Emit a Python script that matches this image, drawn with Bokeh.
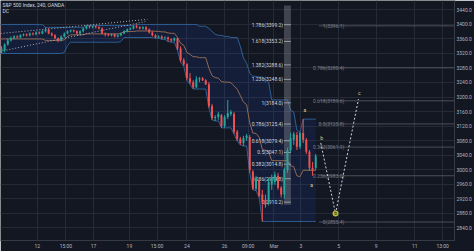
import pandas as pd
from bokeh.plotting import figure
from bokeh.models import Range1d, FixedTicker, NumeralTickFormatter, Label
from bokeh.core.properties import value
from bokeh.embed import file_html
from bokeh.resources import INLINE

# ---- 4h candles (bars -20..-1 are earlier bars that feed the DC indicator) ----
first_bar = -20
bar_open = [3378, 3384, 3381, 3386, 3384, 3389, 3386, 3392, 3389, 3392,
            3395, 3392, 3395, 3397, 3395, 3384, 3373, 3359, 3345, 3332,
            3323, 3329, 3345, 3356, 3362, 3367, 3364, 3370, 3373, 3370,
            3375, 3373, 3378, 3375, 3381, 3386, 3375, 3370, 3362, 3356,
            3367, 3375, 3381, 3384, 3381, 3375, 3381, 3389, 3395, 3392,
            3395, 3392, 3389, 3375, 3373, 3370, 3373, 3367, 3370, 3375,
            3381, 3386, 3389, 3395, 3392, 3389, 3392, 3386, 3378, 3370,
            3364, 3367, 3362, 3364, 3359, 3356, 3362, 3334, 3301, 3290,
            3252, 3241, 3227, 3249, 3252, 3246, 3235, 3175, 3142, 3145,
            3150, 3120, 3145, 3153, 3153, 3104, 3084, 3073, 3087, 3090,
            2994, 2947, 2972, 2931, 2917, 2911, 2958, 2966, 2983, 2950,
            2931, 2999, 3054, 3082, 3095, 3063, 3101, 3082, 3049, 3005,
            3005]
bar_close = [3384, 3381, 3386, 3384, 3389, 3386, 3392, 3389, 3392, 3395,
             3392, 3395, 3397, 3395, 3384, 3373, 3359, 3345, 3332, 3323,
             3334, 3345, 3356, 3362, 3367, 3364, 3370, 3373, 3370, 3375,
             3373, 3378, 3375, 3381, 3386, 3375, 3370, 3362, 3356, 3367,
             3375, 3381, 3384, 3381, 3375, 3381, 3389, 3395, 3392, 3395,
             3392, 3389, 3375, 3373, 3370, 3373, 3367, 3370, 3375, 3381,
             3386, 3389, 3395, 3392, 3389, 3392, 3386, 3378, 3370, 3364,
             3367, 3362, 3364, 3359, 3356, 3362, 3334, 3301, 3290, 3252,
             3241, 3227, 3249, 3252, 3246, 3235, 3175, 3142, 3145, 3153,
             3120, 3145, 3156, 3159, 3104, 3084, 3073, 3087, 3093, 2999,
             2947, 2977, 2928, 2911, 2903, 2966, 2977, 2986, 2950, 2931,
             2999, 3054, 3087, 3098, 3063, 3101, 3082, 3049, 3005, 2999,
             3037]
bar_high = [3386, 3386, 3389, 3389, 3392, 3392, 3395, 3395, 3395, 3397,
            3397, 3397, 3400, 3400, 3400, 3386, 3375, 3362, 3348, 3334,
            3340, 3348, 3362, 3367, 3370, 3370, 3373, 3375, 3375, 3378,
            3378, 3381, 3381, 3384, 3392, 3389, 3378, 3373, 3364, 3370,
            3378, 3384, 3386, 3386, 3384, 3384, 3392, 3397, 3397, 3397,
            3397, 3395, 3392, 3378, 3375, 3375, 3375, 3373, 3378, 3384,
            3389, 3392, 3397, 3400, 3395, 3395, 3395, 3389, 3381, 3373,
            3370, 3370, 3367, 3367, 3362, 3364, 3364, 3340, 3307, 3293,
            3266, 3246, 3257, 3255, 3255, 3249, 3241, 3181, 3150, 3159,
            3153, 3150, 3192, 3164, 3159, 3109, 3090, 3093, 3098, 3095,
            2999, 2983, 2977, 2944, 2931, 2977, 2986, 2994, 2991, 2955,
            3005, 3060, 3101, 3104, 3104, 3104, 3139, 3087, 3054, 3021,
            3043]
bar_low = [3375, 3378, 3378, 3381, 3381, 3384, 3384, 3386, 3386, 3389,
           3389, 3389, 3392, 3392, 3381, 3370, 3356, 3342, 3329, 3320,
           3320, 3323, 3342, 3353, 3359, 3362, 3362, 3367, 3367, 3367,
           3370, 3370, 3373, 3373, 3378, 3373, 3367, 3359, 3351, 3353,
           3364, 3373, 3378, 3378, 3373, 3373, 3378, 3386, 3389, 3389,
           3389, 3386, 3373, 3367, 3367, 3367, 3364, 3364, 3367, 3373,
           3378, 3384, 3386, 3389, 3386, 3386, 3384, 3375, 3367, 3362,
           3362, 3359, 3359, 3353, 3351, 3353, 3329, 3296, 3285, 3246,
           3235, 3222, 3224, 3241, 3244, 3233, 3170, 3137, 3134, 3137,
           3115, 3115, 3139, 3148, 3098, 3079, 3068, 3065, 3079, 2991,
           2944, 2942, 2923, 2857, 2895, 2901, 2944, 2958, 2944, 2923,
           2920, 2991, 3049, 3068, 3054, 3057, 3073, 3043, 2997, 2983,
           2999]
dc_period = 20

# ---- axis ticks ----
price_ticks = list(range(2840, 3441, 40))
time_ticks = [11.4, 20.5, 29.3, 40.7, 49.5, 59.0, 71.0, 78.5, 86.7, 95.3, 107.3, 119.2, 131.5, 140.4]
time_labels = ["12", "15:00", "17", "19", "15:00", "24", "26", "09:00", "Mar", "3", "5", "9", "11", "13:00"]

# ---- drawings ----
wedge_upper_x = [-0.3, 46.4]
wedge_upper_y = [3375.0, 3414.0]
wedge_lower_x = [-0.3, 45.8]
wedge_lower_y = [3326.0, 3408.0]

fib1_low, fib1_high = 2910.2, 3184.0
fib1_levels = [0, 0.236, 0.382, 0.5, 0.618, 0.786, 1, 1.236, 1.382, 1.618, 1.786]
fib1_time = (89.9, 92.1)
band_price = (2903.0, 3452.0)

fib2_low, fib2_high = 2855.4, 3396.1
fib2_levels = [0, 0.236, 0.382, 0.5, 0.618, 0.786, 1]
fib2_time = (101.0, 150.0)
fib2_label_time = 109.1

abc_x = [101.6, 106.3, 113.6]
abc_y = [3073.5, 2878.6, 3194.2]
wave_text = ["a", "b", "a", "c"]
wave_x = [96.5, 101.9, 98.7, 113.9]
wave_y = [3164.0, 3087.0, 2958.0, 3211.0]
wave_b_x, wave_b_y = 106.3, 2879.0

last_price = 3037.0
countdown = "00:59:52"

# ---- build ----
n = len(bar_close)
idx = list(range(first_bar, first_bar + n))
df = pd.DataFrame(dict(x=idx, o=bar_open, h=bar_high, l=bar_low, c=bar_close))
df["top"] = df[["o", "c"]].max(axis=1)
df["bot"] = df[["o", "c"]].min(axis=1)
df["col"] = ["#26a69a" if c >= o else "#ef5350" for o, c in zip(df.o, df.c)]
df["upper"] = df.h.rolling(dc_period, min_periods=1).max()
df["lower"] = df.l.rolling(dc_period, min_periods=1).min()
df["basis"] = (df.upper + df.lower) / 2

XMAX = 144.16
p = figure(width=474, height=251, x_range=Range1d(-0.32, XMAX), y_range=Range1d(2804.5, 3466.0),
           y_axis_location="right", output_backend="svg", toolbar_location=None,
           background_fill_color="#131722", border_fill_color="#131722", outline_line_color=None,
           min_border_left=0, min_border_top=0, min_border_right=0, min_border_bottom=0)

FONT = "Roboto"
for ax in (p.xaxis[0], p.yaxis[0]):
    ax.major_label_text_font_size = "5px"
    ax.major_label_text_color = "#b2b5be"
    ax.major_label_text_font = FONT
    ax.axis_line_color = "#363a45"
    ax.major_tick_line_color = None
    ax.minor_tick_line_color = None
    ax.major_label_standoff = 2
    ax.major_tick_out = 0
    ax.major_tick_in = 0
p.yaxis[0].ticker = FixedTicker(ticks=price_ticks)
p.yaxis[0].formatter = NumeralTickFormatter(format="0.0")
p.xaxis[0].ticker = FixedTicker(ticks=time_ticks)
p.xaxis[0].major_label_overrides = dict(zip(time_ticks, time_labels))
p.xgrid.ticker = FixedTicker(ticks=time_ticks)
p.ygrid.ticker = FixedTicker(ticks=price_ticks)
p.grid.grid_line_color = "#262a35"

# DC indicator
p.varea(x=df.x, y1=df.lower, y2=df.upper, fill_color="#2962ff", fill_alpha=0.1)
p.line(df.x, df.upper, line_color="#2e5f96", line_width=1)
p.line(df.x, df.lower, line_color="#2e5f96", line_width=1)
p.line(df.x, df.basis, line_color="#8f6a55", line_width=1)

# gray range band + fib 1
p.quad(left=fib1_time[0], right=fib1_time[1], bottom=band_price[0], top=band_price[1],
       fill_color="#9598a1", fill_alpha=0.35, line_color=None)
f1p = [fib1_low + lv * (fib1_high - fib1_low) for lv in fib1_levels]
p.segment(x0=[fib1_time[0]] * len(f1p), x1=[fib1_time[1]] * len(f1p), y0=f1p, y1=f1p,
          line_color="#d1d4dc", line_alpha=0.6, line_width=1)
p.text(x=[fib1_time[0] - 0.3] * len(f1p), y=f1p,
       text=[f"{lv:g}({pr:.1f})" for lv, pr in zip(fib1_levels, f1p)],
       text_align="right", text_baseline="middle", text_font_size="5px",
       text_color="#d1d4dc", text_font=value(FONT))

# fib 2
f2p = [fib2_low + lv * (fib2_high - fib2_low) for lv in fib2_levels]
p.segment(x0=[fib2_time[0]] * len(f2p), x1=[fib2_time[1]] * len(f2p), y0=f2p, y1=f2p,
          line_color="#787b86", line_alpha=0.55, line_width=1)
p.text(x=[fib2_label_time] * len(f2p), y=f2p,
       text=[f"{lv:g}({pr:.1f})" for lv, pr in zip(fib2_levels, f2p)],
       text_align="right", text_baseline="middle", text_font_size="5px",
       text_color="#787b86", text_font=value(FONT))

# wedge trendlines
p.line(wedge_upper_x, wedge_upper_y, line_color="#d1d4dc", line_alpha=0.8, line_dash="1 2", line_width=1)
p.line(wedge_lower_x, wedge_lower_y, line_color="#d1d4dc", line_alpha=0.8, line_dash="1 2", line_width=1)

# candles
p.segment(x0=df.x, x1=df.x, y0=df.l, y1=df.h, line_color=df.col, line_width=1)
p.vbar(x=df.x, width=0.62, top=df.top, bottom=df.bot, fill_color=df.col, line_color=None)

# ABC projection
p.line(abc_x, abc_y, line_color="#d1d4dc", line_dash="2 2", line_width=1)
p.text(x=wave_x, y=wave_y, text=wave_text, text_align="center", text_baseline="middle",
       text_font_size="5px", text_color="#e0d08a", text_font=value(FONT))
p.scatter([wave_b_x], [wave_b_y], size=6, fill_color="#b5c334", line_color=None)
p.text(x=[wave_b_x], y=[wave_b_y], text=["b"], text_align="center", text_baseline="middle",
       text_font_size="5px", text_color="#131722", text_font=value(FONT))

# title
p.add_layout(Label(x=2, y=236, x_units="screen", y_units="screen", text="S&P 500 Index, 240, OANDA",
                   text_font_size="5px", text_color="#d1d4dc", text_font=FONT, text_baseline="middle"))
p.add_layout(Label(x=2, y=230, x_units="screen", y_units="screen", text="DC",
                   text_font_size="5px", text_color="#d1d4dc", text_font=FONT, text_baseline="middle"))

# last price tags on the price scale
p.add_layout(Label(x=XMAX, y=last_price, text=f"{last_price:.1f}", x_offset=0.5, y_offset=1,
                   text_font_size="4.5px", text_color="#ffffff", text_font=FONT, text_baseline="middle",
                   background_fill_color="#ef5350", padding=1))
p.add_layout(Label(x=XMAX, y=last_price, y_offset=-5.5, text=countdown, x_offset=0.5,
                   text_font_size="4px", text_color="#ffffff", text_font=FONT, text_baseline="middle",
                   background_fill_color="#ef5350", padding=1))

open("out.html", "w").write(file_html(p, INLINE))
